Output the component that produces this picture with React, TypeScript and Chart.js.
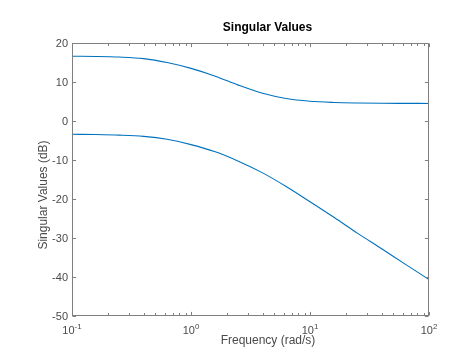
import React, { useEffect, useRef } from 'react';
import { Chart, registerables } from 'chart.js';

Chart.register(...registerables);

// ---- data ----
const frequencies = [0.1, 0.16, 0.25, 0.4, 0.63, 1, 1.6, 2.5, 4, 6.3, 10, 16, 25, 40, 63, 100];
const upperSigmaDb = [16.6, 16.55, 16.4, 16.0, 15.0, 13.5, 11.5, 9.2, 7.1, 5.75, 5.05, 4.75, 4.62, 4.55, 4.52, 4.5];
const lowerSigmaDb = [-3.4, -3.47, -3.62, -3.95, -4.7, -6.05, -7.9, -10.3, -13.3, -16.8, -20.7, -24.75, -28.75, -32.75, -36.7, -40.65];
const yTickValues = [20, 10, 0, -10, -20, -30, -40, -50];
const xDecadeExponents = [-1, 0, 1, 2];
const titleText = 'Singular Values';
const xLabelText = 'Frequency (rad/s)';
const yLabelText = 'Singular Values (dB)';

const FONT = '"Liberation Sans", Arial, sans-serif';
const AXIS_COLOR = '#7f7f7f';
const TEXT_COLOR = '#4a4a4a';
const LINE_COLOR = '#0072BD';

const axesPlugin = {
  id: 'matlabAxes',
  afterDatasetsDraw(chart: any) {
    const { ctx, chartArea: a, scales } = chart;
    const xs = scales.x;
    const ys = scales.y;
    ctx.save();
    ctx.strokeStyle = AXIS_COLOR;
    ctx.lineWidth = 1;
    const L = Math.round(a.left) + 0.5;
    const R = Math.round(a.right) - 0.5;
    const T = Math.round(a.top) + 0.5;
    const B = Math.round(a.bottom) - 0.5;
    ctx.strokeRect(L, T, R - L, B - T);

    const majorLen = 3.6;
    const minorLen = 2.5;
    ctx.beginPath();
    const first = xDecadeExponents[0];
    const last = xDecadeExponents[xDecadeExponents.length - 1];
    for (let d = first; d <= last; d++) {
      for (let m = 1; m <= 9; m++) {
        if (d === last && m > 1) break;
        const v = m * Math.pow(10, d);
        const px = Math.round(xs.getPixelForValue(v)) + 0.5;
        const len = m === 1 ? majorLen : minorLen;
        ctx.moveTo(px, B);
        ctx.lineTo(px, B - len);
        ctx.moveTo(px, T);
        ctx.lineTo(px, T + len);
      }
    }
    for (const v of yTickValues) {
      const py = Math.round(ys.getPixelForValue(v)) + 0.5;
      ctx.moveTo(L, py);
      ctx.lineTo(L + majorLen, py);
      ctx.moveTo(R, py);
      ctx.lineTo(R - majorLen, py);
    }
    ctx.stroke();

    // y tick labels
    ctx.fillStyle = TEXT_COLOR;
    ctx.font = `11px ${FONT}`;
    ctx.textAlign = 'right';
    ctx.textBaseline = 'middle';
    for (const v of yTickValues) {
      const py = ys.getPixelForValue(v);
      ctx.fillText(String(v), L - 4.5, py + 0.5);
    }

    // x tick labels: 10^n
    for (const e of xDecadeExponents) {
      const px = xs.getPixelForValue(Math.pow(10, e));
      ctx.font = `11px ${FONT}`;
      const wb = ctx.measureText('10').width;
      ctx.font = `8px ${FONT}`;
      const we = ctx.measureText(String(e)).width;
      const start = px - (wb + we) / 2;
      ctx.textAlign = 'left';
      ctx.textBaseline = 'alphabetic';
      ctx.font = `11px ${FONT}`;
      ctx.fillText('10', start, 333.5);
      ctx.font = `8px ${FONT}`;
      ctx.fillText(String(e), start + wb, 329);
    }

    // axis labels
    ctx.font = `12px ${FONT}`;
    ctx.textAlign = 'center';
    ctx.textBaseline = 'alphabetic';
    ctx.fillText(xLabelText, 268, 344);

    ctx.save();
    ctx.translate(44, 195);
    ctx.rotate(-Math.PI / 2);
    ctx.textBaseline = 'middle';
    ctx.fillText(yLabelText, 0, 0);
    ctx.restore();

    // title
    ctx.fillStyle = '#000000';
    ctx.font = `bold 12px ${FONT}`;
    ctx.textAlign = 'center';
    ctx.textBaseline = 'alphabetic';
    ctx.fillText(titleText, 267.5, 31.3);

    ctx.restore();
  },
};

export default function App() {
  const canvasRef = useRef<HTMLCanvasElement | null>(null);

  useEffect(() => {
    document.body.style.margin = '0';
    const canvas = canvasRef.current;
    if (!canvas) return;
    const chart = new Chart(canvas, {
      type: 'line',
      data: {
        datasets: [
          {
            label: 'sigma 1',
            data: frequencies.map((f, i) => ({ x: f, y: upperSigmaDb[i] })),
            borderColor: LINE_COLOR,
            borderWidth: 1.1,
            pointRadius: 0,
            fill: false,
            cubicInterpolationMode: 'monotone',
          },
          {
            label: 'sigma 2',
            data: frequencies.map((f, i) => ({ x: f, y: lowerSigmaDb[i] })),
            borderColor: LINE_COLOR,
            borderWidth: 1.1,
            pointRadius: 0,
            fill: false,
            cubicInterpolationMode: 'monotone',
          },
        ],
      },
      options: {
        animation: false,
        responsive: false,
        devicePixelRatio: 1,
        layout: { padding: { left: 72, top: 43, right: 45, bottom: 39 } },
        plugins: { legend: { display: false }, tooltip: { enabled: false }, title: { display: false } },
        scales: {
          x: { type: 'logarithmic', min: 0.1, max: 100, display: false },
          y: { type: 'linear', min: -50, max: 20, display: false },
        },
      },
      plugins: [axesPlugin],
    });
    return () => chart.destroy();
  }, []);

  return (
    <div style={{ position: 'absolute', left: 0, top: 0, width: 474, height: 355, background: '#ffffff' }}>
      <canvas ref={canvasRef} width={474} height={355} style={{ width: 474, height: 355, display: 'block' }} />
    </div>
  );
}
